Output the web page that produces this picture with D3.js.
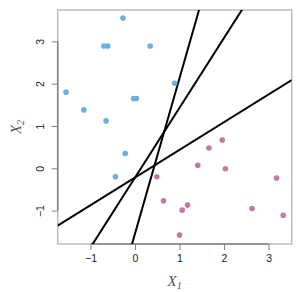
<!DOCTYPE html>
<html><head><meta charset="utf-8">
<script src="https://cdn.jsdelivr.net/npm/d3@7"></script>
<style>body{margin:0;background:#fff}</style>
</head><body>
<script>
const blueX = [-0.27, -0.70, -0.61, 0.34, -1.55, -1.15, -0.65, -0.03, 0.03, 0.89, -0.22, -0.44];
const blueY = [3.55, 2.89, 2.89, 2.89, 1.80, 1.38, 1.12, 1.65, 1.65, 2.01, 0.35, -0.20];
const pinkX = [0.49, 1.41, 1.66, 1.96, 2.03, 0.64, 1.18, 1.06, 1.00, 3.18, 2.63, 3.33];
const pinkY = [-0.20, 0.07, 0.48, 0.67, -0.01, -0.77, -0.87, -0.99, -1.58, -0.23, -0.95, -1.11];
const lineIntercepts = [-0.22, -0.22, -1.544];
const lineSlopes = [0.655, 1.651, 3.676];
const xTicks = [-1, 0, 1, 2, 3];
const yTicks = [-1, 0, 1, 2, 3];

const W = 297, H = 292;
const L = 57.7, R = 291.7, T = 10, B = 244;
const svg = d3.select("body").append("svg").attr("width", W).attr("height", H);
const x = d3.scaleLinear().domain([-1.737, 3.52]).range([L, R]);
const y = d3.scaleLinear().domain([-1.79, 3.742]).range([B, T]);

svg.append("defs").append("clipPath").attr("id","c").append("rect")
  .attr("x", L).attr("y", T).attr("width", R-L).attr("height", B-T);

// box
svg.append("rect").attr("x", L).attr("y", T).attr("width", R-L).attr("height", B-T)
  .attr("fill","none").attr("stroke","#bdbdbd").attr("stroke-width",1.5);

const fmt = d => d < 0 ? "\u2212" + Math.abs(d) : d;
const xa = svg.append("g").attr("transform", `translate(0,${B})`)
  .call(d3.axisBottom(x).tickValues(xTicks).tickSize(6).tickPadding(5).tickFormat(fmt));
const ya = svg.append("g").attr("transform", `translate(${L},0)`)
  .call(d3.axisLeft(y).tickValues(yTicks).tickSize(6).tickPadding(5).tickFormat(fmt));
[xa, ya].forEach(a => {
  a.select(".domain").remove();
  a.selectAll(".tick line").attr("stroke","#808080").attr("stroke-width",1);
  a.selectAll(".tick text").attr("fill","#222").style("font-family","Liberation Sans, Arial, sans-serif").style("font-size","10.5px");
});
ya.selectAll(".tick text").each(function(){
  d3.select(this).attr("transform","rotate(-90)").attr("x",0).attr("y",-17).attr("dy","0.35em").attr("text-anchor","middle");
});
// axis lines from first to last tick
svg.append("line").attr("x1", x(xTicks[0])).attr("x2", x(xTicks[xTicks.length-1])).attr("y1", B).attr("y2", B)
  .attr("stroke","#808080").attr("stroke-width",1.5);
svg.append("line").attr("x1", L).attr("x2", L).attr("y1", y(yTicks[0])).attr("y2", y(yTicks[yTicks.length-1]))
  .attr("stroke","#808080").attr("stroke-width",1.5);

// lines
const g = svg.append("g").attr("clip-path","url(#c)");
const xd = x.domain();
lineIntercepts.forEach((b0, i) => {
  const b1 = lineSlopes[i];
  g.append("line")
    .attr("x1", x(xd[0])).attr("y1", y(b0 + b1*xd[0]))
    .attr("x2", x(xd[1])).attr("y2", y(b0 + b1*xd[1]))
    .attr("stroke","#000").attr("stroke-width",2);
});

// points
svg.append("g").selectAll("circle").data(blueX).join("circle")
  .attr("cx", d => x(d)).attr("cy", (d,i) => y(blueY[i])).attr("r", 2.8).attr("fill", "#6aafe2");
svg.append("g").selectAll("circle").data(pinkX).join("circle")
  .attr("cx", d => x(d)).attr("cy", (d,i) => y(pinkY[i])).attr("r", 2.8).attr("fill", "#c676a8");

// axis labels
const xl = svg.append("text").attr("x", (L+R)/2).attr("y", 286).attr("text-anchor","middle")
  .style("font-family","Liberation Serif, DejaVu Serif, serif").style("font-style","italic").style("font-size","15px").attr("fill","#555");
xl.append("tspan").text("X");
xl.append("tspan").text("1").attr("dy", 2.5).style("font-size","10px");
const yl = svg.append("text").attr("transform", `translate(21,${(T+B)/2}) rotate(-90)`).attr("text-anchor","middle")
  .style("font-family","Liberation Serif, DejaVu Serif, serif").style("font-style","italic").style("font-size","15px").attr("fill","#555");
yl.append("tspan").text("X");
yl.append("tspan").text("2").attr("dy", 2.5).style("font-size","10px");
</script>
</body></html>
